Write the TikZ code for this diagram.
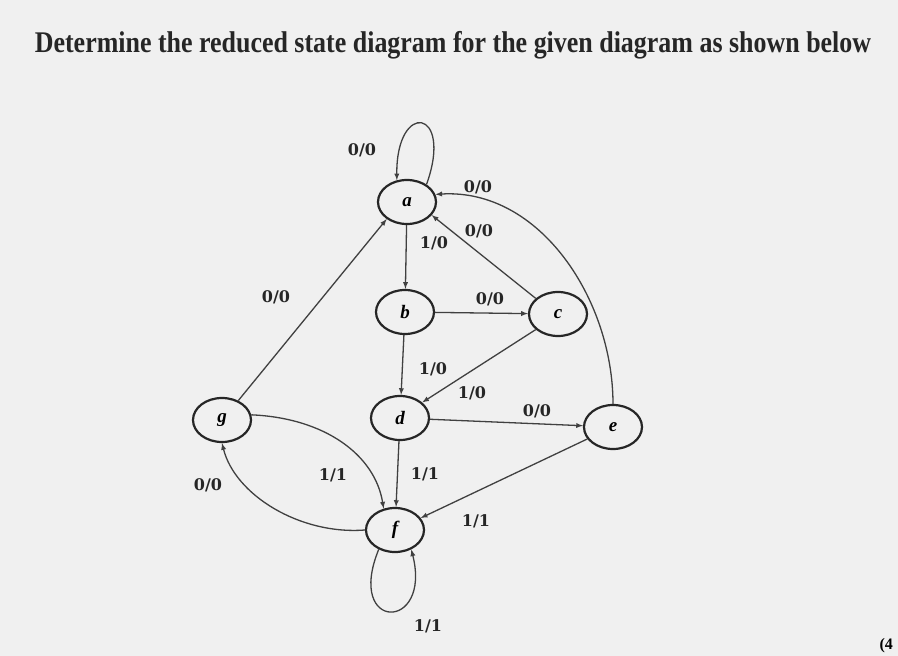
\documentclass[tikz,border=0pt]{standalone}
\usepackage{fontspec}
\setmainfont{Liberation Serif}
\newfontfamily\lblfont{DejaVu Serif}
\usepackage{tikz}
\usetikzlibrary{shapes.geometric}

\begin{document}
\begin{tikzpicture}[x=1pt, y=-1pt,
	state/.style={draw=black!85, ellipse, line width=2.2pt, minimum width=58pt, minimum height=44pt, inner sep=0pt, font=\fontsize{19}{19}\selectfont\itshape\bfseries},
	edge/.style={->, >=latex, draw=black!75, line width=1.3pt},
	lbl/.style={font=\lblfont\fontsize{16}{16}\selectfont\bfseries, text=black!85, inner sep=1pt}]
	\useasboundingbox[fill=gray!12] (0,0) rectangle (898,656);
	\node[font=\fontsize{30}{30}\selectfont\bfseries, text=black!85, xscale=0.865, transform shape] (title) at (453,45) {Determine the reduced state diagram for the given diagram as shown below};
	\node[state] (a) at (407,202) {a};
	\node[state] (b) at (405,312) {b};
	\node[state] (c) at (558,314) {c};
	\node[state] (d) at (400,418) {d};
	\node[state] (e) at (613,427) {e};
	\node[state] (f) at (395,530) {f};
	\node[state] (g) at (222,420) {g};
	\draw[edge] (a.42) .. controls (454,108) and (396,100) .. (a.115);
	\draw[edge] (a) -- (b);
	\draw[edge] (b) -- (c);
	\draw[edge] (c.145) -- (a.-28);
	\draw[edge] (e.90) .. controls (613,300) and (540,188) .. (a.15);
	\draw[edge] (b) -- (d);
	\draw[edge] (c.215) -- (d.35);
	\draw[edge] (d) -- (e);
	\draw[edge] (d) -- (f);
	\draw[edge] (e.205) -- (f.25);
	\draw[edge] (g.50) -- (a.220);
	\draw[edge] (g.10) .. controls (325,418) and (375,455) .. (f.118);
	\draw[edge] (f.180) .. controls (300,535) and (235,495) .. (g.270);
	\draw[edge] (f.230) .. controls (345,632) and (432,632) .. (f.310);
	\node[lbl] (l1) at (362,150) {0/0};
	\node[lbl] (l2) at (434,243) {1/0};
	\node[lbl] (l3) at (490,299) {0/0};
	\node[lbl] (l4) at (479,231) {0/0};
	\node[lbl] (l5) at (478,187) {0/0};
	\node[lbl] (l6) at (433,369) {1/0};
	\node[lbl] (l7) at (472,393) {1/0};
	\node[lbl] (l8) at (537,411) {0/0};
	\node[lbl] (l9) at (425,474) {1/1};
	\node[lbl] (l10) at (476,521) {1/1};
	\node[lbl] (l11) at (276,297) {0/0};
	\node[lbl] (l12) at (333,475) {1/1};
	\node[lbl] (l13) at (208,485) {0/0};
	\node[lbl] (l14) at (428,626) {1/1};
	\node[font=\fontsize{16}{16}\selectfont\bfseries, anchor=west] (mark) at (876,646) {(4};
\end{tikzpicture}
\end{document}
